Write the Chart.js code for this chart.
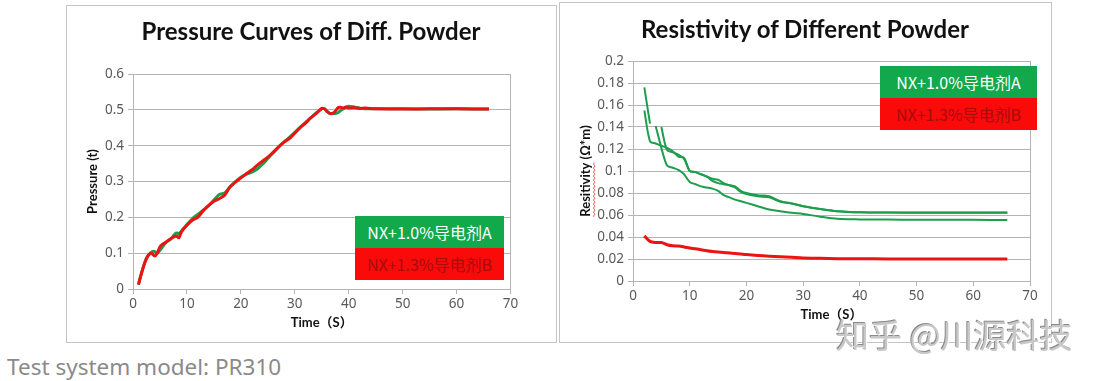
<!DOCTYPE html>
<html><head><meta charset="utf-8">
<script src="https://cdn.jsdelivr.net/npm/chart.js@4.4.1/dist/chart.umd.min.js"></script>
<style>
html,body{margin:0;padding:0;background:#fff;width:1102px;height:381px;overflow:hidden;position:relative}
.frame{position:absolute;border:1px solid #c4c4c4;box-sizing:border-box}
canvas{position:absolute}
.title{position:absolute;font:bold 24px Lato,'Noto Sans',sans-serif;color:#111;white-space:nowrap;transform:translate(-50%,-50%)}
.leg{position:absolute;box-sizing:border-box;display:flex;align-items:center;justify-content:center;font:16px 'Noto Sans CJK SC',sans-serif;white-space:nowrap;z-index:3}
.g{background:#12a84c;color:#fff}
.r{background:#fb0a0a;color:#a50d0d}
#cap{position:absolute;left:7px;top:351px;font:22.5px 'Noto Sans',sans-serif;color:#8a8a8a;white-space:nowrap}
#wm{position:absolute;left:836px;top:310px;font:33px 'Noto Sans CJK SC',sans-serif;color:#c8c8c8;text-shadow:1px 1px 0 #fff,-1px -1px 0 #8a8a8a;z-index:5;white-space:nowrap}
</style></head>
<body>
<div class="frame" style="left:66px;top:5px;width:491px;height:338px"></div>
<div class="frame" style="left:559px;top:2px;width:493px;height:341px"></div>
<canvas id="c1" width="491" height="338" style="left:66px;top:5px"></canvas>
<canvas id="c2" width="493" height="341" style="left:559px;top:2px"></canvas>
<div class="title" id="t1" style="left:311px;top:30px"></div>
<div class="title" id="t2" style="left:805px;top:28px"></div>
<div class="leg g" id="l1a" style="left:355px;top:216px;width:149px;height:32px"></div>
<div class="leg r" id="l1b" style="left:355px;top:248px;width:149px;height:32px"></div>
<div class="leg g" id="l2a" style="left:880px;top:66px;width:157px;height:32px"></div>
<div class="leg r" id="l2b" style="left:880px;top:98px;width:157px;height:32px"></div>
<div id="cap">Test system model: PR310</div>
<div id="wm">知乎 @川源科技</div>
<script>
// ---- data ----
const chartTitles = ['Pressure Curves of Diff. Powder', 'Resistivity of Different Powder'];
const seriesNames = ['NX+1.0%导电剂A', 'NX+1.3%导电剂B'];
const xTitle = 'Time（S）';
const pressureYTitle = 'Pressure (t)';
const resYTitle = 'Resitivity (Ω*m)';

const pressureTime = [1,1.5,2,2.5,3,3.5,4,4.5,5,5.5,6,7,8,8.5,9,10,11,12,13,14,15,16,17,18,19,20,21,22,23,24,25,26,27,28,29,30,31,32,33,34,35,35.5,36,36.5,37,37.5,38,38.5,39,39.5,40,41,42,43,45,50,55,60,66];
const pressureA = [0.012,0.04,0.066,0.086,0.097,0.104,0.105,0.1,0.108,0.118,0.128,0.14,0.156,0.155,0.162,0.18,0.196,0.208,0.22,0.232,0.248,0.264,0.268,0.285,0.3,0.312,0.32,0.326,0.334,0.348,0.364,0.38,0.397,0.41,0.423,0.437,0.452,0.465,0.478,0.492,0.503,0.503,0.496,0.49,0.49,0.49,0.492,0.498,0.503,0.508,0.51,0.508,0.505,0.503,0.503,0.503,0.502,0.503,0.502];
const pressureB = [0.012,0.04,0.065,0.085,0.097,0.099,0.092,0.1,0.118,0.125,0.13,0.14,0.148,0.143,0.16,0.178,0.192,0.2,0.218,0.233,0.245,0.252,0.262,0.285,0.298,0.31,0.322,0.332,0.345,0.357,0.368,0.382,0.396,0.41,0.42,0.435,0.45,0.463,0.478,0.49,0.504,0.503,0.495,0.49,0.49,0.496,0.506,0.507,0.505,0.507,0.505,0.506,0.504,0.505,0.503,0.502,0.503,0.503,0.502];

const resTime = [2,3,4,5,6,7,8,9,10,11,12,13,14,15,16,17,18,19,20,22,24,26,28,30,33,36,40,45,50,55,60,66];
const resA1 = [0.176,0.143,null,0.140,0.119,0.117,0.115,0.111,0.100,0.099,0.097,0.095,0.093,0.092,0.089,0.087,0.085,0.081,0.079,0.077,0.076,0.072,0.0705,0.068,0.0655,0.0635,0.0625,0.0623,0.0622,0.0622,0.0622,0.0622];
const resA2 = [0.155,0.127,0.125,0.123,0.121,0.118,0.113,0.112,0.100,0.099,0.097,0.095,0.091,0.089,0.088,0.087,0.086,0.082,0.080,0.078,0.077,0.0725,0.0705,0.068,0.0655,0.0635,0.0625,0.0622,0.0621,0.0621,0.0621,0.0621];
const resA3 = [null,null,0.141,0.121,0.105,0.103,0.101,0.097,0.090,0.088,0.086,0.085,0.084,0.082,0.078,0.076,0.074,0.0725,0.071,0.068,0.065,0.0635,0.062,0.061,0.0585,0.0565,0.056,0.0558,0.0557,0.0556,0.0556,0.0555];
const resB = [0.041,0.036,0.035,0.035,0.033,0.032,0.0318,0.031,0.030,0.0293,0.0285,0.0275,0.0268,0.0263,0.026,0.0255,0.025,0.0245,0.024,0.0232,0.0226,0.022,0.0215,0.021,0.0206,0.0203,0.0202,0.0201,0.020,0.020,0.020,0.020];

const xMin = 0, xMax = 70, xStep = 10;
const pressureMax = 0.6, pressureStep = 0.1;
const resMax = 0.2, resStep = 0.02;

// ---- styling ----
const GREEN = '#1f9d4f', RED = '#ec1313', GRID = '#b4b4b4', TICK = '#595959';
const tickFont = {family:"'Noto Sans', sans-serif", size:13.5};
const axisTitleFont = {family:"Lato, 'Noto Sans CJK SC', sans-serif", size:13, weight:'bold'};

document.getElementById('t1').textContent = chartTitles[0];
document.getElementById('t2').textContent = chartTitles[1];
['l1a','l2a'].forEach(id=>document.getElementById(id).textContent = seriesNames[0]);
['l1b','l2b'].forEach(id=>document.getElementById(id).textContent = seriesNames[1]);

const pts = (xs, ys) => xs.map((x,i)=>({x:x, y:ys[i]}));
const fmt = v => String(+v.toFixed(3));

// red spell-check squiggle under the rotated y-axis title word (right chart)
const squiggle = {
  id:'squiggle',
  afterDraw(chart, args, o){
    if(!o || !o.on) return;
    const y = chart.scales.y, ctx = chart.ctx;
    const cx = o.x, cy = (chart.chartArea.top+chart.chartArea.bottom)/2;
    ctx.save();
    ctx.font = 'bold 13px Lato';
    const full = ctx.measureText(resYTitle).width;
    const w = ctx.measureText('Resitivity').width;
    const start = cy + full/2; // bottom end (text reads upward)
    ctx.strokeStyle = '#e04040'; ctx.lineWidth = 1;
    ctx.beginPath();
    for(let d=0; d<=w; d+=1){
      const px = cx + 8 + ((Math.floor(d/2))%2 ? 1 : 0);
      const py = start - d;
      if(d===0) ctx.moveTo(px,py); else ctx.lineTo(px,py);
    }
    ctx.stroke();
    ctx.restore();
  }
};

function makeOptions(c){
  return {
    responsive:false, animation:false,
    layout:{padding:{left:0,right:c.padR,top:c.padT,bottom:0}},
    plugins:{legend:{display:false},title:{display:false},tooltip:{enabled:false},squiggle:c.sq},
    elements:{point:{radius:0}},
    scales:{
      x:{type:'linear',min:xMin,max:xMax,
        ticks:{stepSize:xStep,color:TICK,font:tickFont,padding:2,maxRotation:0,callback:fmt},
        grid:{color:ctx=>(ctx.tick && ctx.tick.value===xMax)?GRID:'rgba(0,0,0,0)',tickColor:GRID,tickLength:5,lineWidth:1},
        border:{color:GRID},
        title:{display:true,text:xTitle,color:'#111',font:axisTitleFont,padding:{top:0,bottom:c.xtPad}},
        afterFit:s=>{s.height=c.xH;}},
      y:{min:0,max:c.ymax,
        ticks:{stepSize:c.ystep,color:TICK,font:tickFont,padding:4,callback:fmt},
        grid:{color:GRID,tickColor:GRID,tickLength:5},
        border:{color:GRID},
        title:{display:true,text:c.ytitle,color:'#111',font:axisTitleFont,padding:{top:c.ytPad,bottom:0}},
        afterFit:s=>{s.width=c.yW;}}
    }
  };
}

new Chart(document.getElementById('c1'),{
  type:'line',
  data:{datasets:[
    {label:seriesNames[1],data:pts(pressureTime,pressureB),borderColor:RED,borderWidth:3,tension:0.3,order:0},
    {label:seriesNames[0],data:pts(pressureTime,pressureA),borderColor:GREEN,borderWidth:3,tension:0.3,order:1}
  ]},
  options:makeOptions({padR:46.5,padT:69,xH:54,yW:67,ymax:pressureMax,ystep:pressureStep,ytitle:pressureYTitle,ytPad:19.5,xtPad:12.5,sq:{on:false}})
});

new Chart(document.getElementById('c2'),{
  type:'line',
  data:{datasets:[
    {label:seriesNames[1],data:pts(resTime,resB),borderColor:RED,borderWidth:3,tension:0.3,order:0},
    {label:seriesNames[0],data:pts(resTime,resA1),borderColor:GREEN,borderWidth:2,tension:0.3,spanGaps:false,order:1},
    {label:seriesNames[0],data:pts(resTime,resA2),borderColor:GREEN,borderWidth:2,tension:0.3,order:1},
    {label:seriesNames[0],data:pts(resTime,resA3),borderColor:GREEN,borderWidth:2,tension:0.3,order:1}
  ]},
  plugins:[squiggle],
  options:makeOptions({padR:22,padT:59,xH:62,yW:74,ymax:resMax,ystep:resStep,ytitle:resYTitle,ytPad:19,xtPad:20.5,sq:{on:true,x:26.7}})
});
</script>
</body></html>
